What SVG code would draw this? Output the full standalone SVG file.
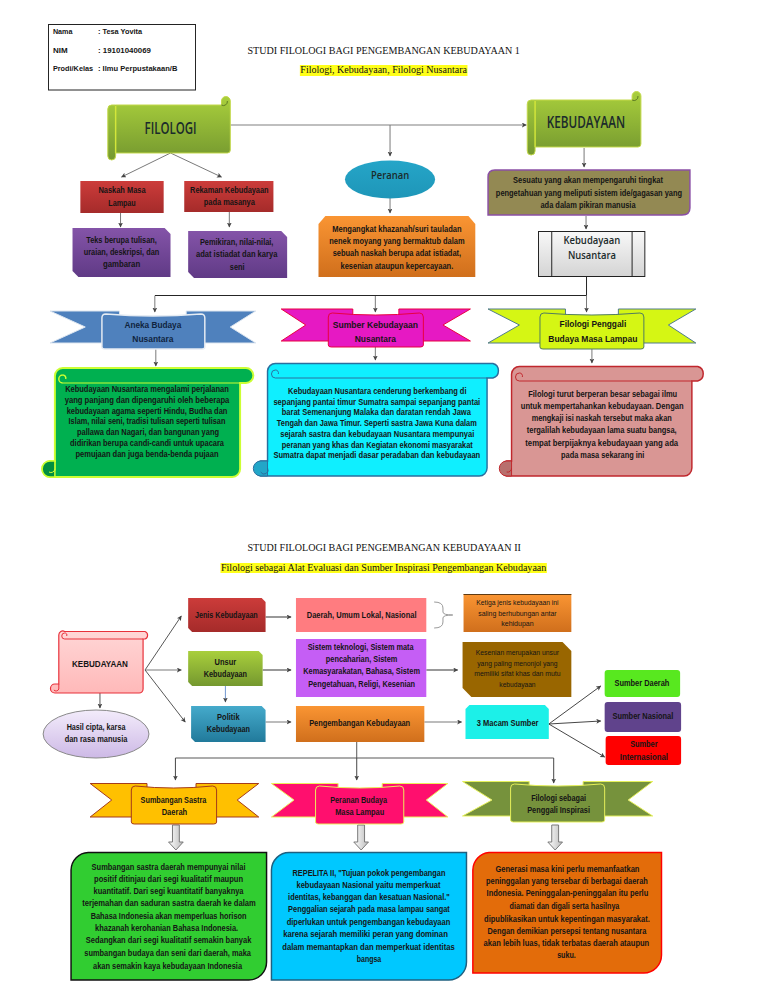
<svg xmlns="http://www.w3.org/2000/svg" width="768" height="994" viewBox="0 0 768 994">
<style>
text{font-family:"Liberation Sans",Arial,sans-serif;font-size:8.4px;font-weight:700;fill:#151515;text-anchor:middle}
.n{font-weight:400;font-size:7.4px}
.h{font-family:"Open Sans","Liberation Sans",sans-serif;font-weight:600;font-size:11px;fill:#1b2b2b}
.s{font-family:"Liberation Serif",serif;font-weight:400;font-size:10.5px;fill:#111}
.l{text-anchor:start;font-size:7.8px}
.c{fill:none;stroke:#777;stroke-width:1;marker-end:url(#a)}
.k{fill:none;stroke:#222;stroke-width:1}
.hl{fill:#ffff19}
.f{fill:none;stroke-width:1}
</style>
<defs>
<marker id="a" markerWidth="6" markerHeight="6" refX="4.5" refY="2.5" orient="auto" markerUnits="userSpaceOnUse"><path d="M0 0L5 2.5L0 5L1.2 2.5Z" fill="#444"/></marker>
<linearGradient id="g1" x1="0" y1="0" x2="0" y2="1"><stop offset="0" stop-color="#a9cf3c"/><stop offset="1" stop-color="#74982f"/></linearGradient>
<linearGradient id="r1" x1="0" y1="0" x2="0" y2="1"><stop offset="0" stop-color="#cc3c3a"/><stop offset="1" stop-color="#a52b2a"/></linearGradient>
<linearGradient id="p1" x1="0" y1="0" x2="0" y2="1"><stop offset="0" stop-color="#8454a8"/><stop offset="1" stop-color="#603a86"/></linearGradient>
<linearGradient id="o1" x1="0" y1="0" x2="0" y2="1"><stop offset="0" stop-color="#fa9533"/><stop offset="1" stop-color="#d06f1c"/></linearGradient>
<linearGradient id="t1" x1="0" y1="0" x2="0" y2="1"><stop offset="0" stop-color="#45aacb"/><stop offset="1" stop-color="#217a9b"/></linearGradient>
<linearGradient id="e1" x1="0" y1="0" x2="0" y2="1"><stop offset="0" stop-color="#25a5c8"/><stop offset="1" stop-color="#1e96b8"/></linearGradient>
<linearGradient id="w1" x1="0" y1="0" x2="0" y2="1"><stop offset="0" stop-color="#f8f8f8"/><stop offset="1" stop-color="#d4d4d4"/></linearGradient>
<linearGradient id="v1" x1="0" y1="0" x2="0" y2="1"><stop offset="0" stop-color="#f3ecfb"/><stop offset="1" stop-color="#cdb9e6"/></linearGradient>
<linearGradient id="s1" x1="0" y1="0" x2="0" y2="1"><stop offset="0" stop-color="#ffd6d6"/><stop offset="1" stop-color="#ffb9b9"/></linearGradient>
<linearGradient id="ar" x1="0" y1="0" x2="1" y2="0"><stop offset="0" stop-color="#fff"/><stop offset="1" stop-color="#bbb"/></linearGradient>
</defs>
<g id="page" transform="scale(0.98 1)">
<g id="connectors">
<path class="c" d="M235 125H537" style="stroke:#aaa;stroke-width:1.5"/>
<path class="c" d="M398 125V156"/>
<path class="c" d="M174 153L124 177"/>
<path class="c" d="M174 153L226 177"/>
<path class="c" d="M123 213V227"/>
<path class="c" d="M234 212V227"/>
<path class="c" d="M398 198V213"/>
<path class="c" d="M596 148V167"/>
<path class="c" d="M598 216V229"/>
<path class="k" d="M598.500 277V295.500H158"/>
<path class="c" d="M158 296V312"/>
<path class="c" d="M383 296V312"/>
<path class="c" d="M598.500 296V312"/>
<path class="c" d="M159 349V366"/>
<path class="c" d="M383 347V360"/>
<path class="c" d="M604 349V363"/>
<path class="c" d="M271 617H297" style="stroke-width:1.5"/>
<path class="c" d="M268 670H297" style="stroke-width:1.5"/>
<path class="c" d="M435 670H467" style="stroke-width:1.5"/>
<path class="c" d="M271 722H297"/>
<path class="c" d="M433 722H471"/>
<path class="c" d="M148 670L185 616" style="stroke:#555"/>
<path class="c" d="M148 670H185"/>
<path class="c" d="M148 670L189 722" style="stroke:#555"/>
<path class="c" d="M102 693V708" style="stroke:#555"/>
<path class="c" d="M230 686V702" style="stroke:#6f96cf"/>
<path class="c" d="M560 724L613 686" style="stroke:#444"/>
<path class="c" d="M560 724L613 721" style="stroke:#444"/>
<path class="c" d="M560 724L617 757" style="stroke:#444"/>
<path class="k" d="M443 602Q452 602 452 608V612Q452 615 462 615Q452 615 452 618V622Q452 628 443 628" style="stroke:#999"/>
<path class="k" d="M364 742V758M179 758H565" style="stroke:#555"/>
<path class="c" d="M179 758V780" style="stroke:#444"/>
<path class="c" d="M364 758V780" style="stroke:#444"/>
<path class="c" d="M565 758V783" style="stroke:#444"/>
<path d="M176 825H183V842H187L179.500 850L172 842H176Z" fill="url(#ar)" stroke="#777"/>
<path d="M365 825H372V842H376L368.500 850L361 842H365Z" fill="url(#ar)" stroke="#777"/>
<path d="M563 825H570V842H574L566.500 850L559 842H563Z" fill="url(#ar)" stroke="#777"/>
</g>

<g id="info">
<rect x="49.500" y="24.500" width="150" height="65.500" fill="#fff" stroke="#222"/>
<text class="l" x="54" y="34.500" textLength="20" lengthAdjust="spacingAndGlyphs">Nama</text><text class="l" x="100" y="34.500" textLength="45" lengthAdjust="spacingAndGlyphs">: Tesa Yovita</text>
<text class="l" x="54" y="53.500" textLength="15" lengthAdjust="spacingAndGlyphs">NIM</text><text class="l" x="100" y="53.500" textLength="54" lengthAdjust="spacingAndGlyphs">: 19101040069</text>
<text class="l" x="54" y="71.500" textLength="41" lengthAdjust="spacingAndGlyphs">Prodi/Kelas</text><text class="l" x="100" y="71.500" textLength="81" lengthAdjust="spacingAndGlyphs">: Ilmu Perpustakaan/B</text>
</g>
<g id="title1">
<text class="s" x="391.500" y="54" textLength="278" lengthAdjust="spacingAndGlyphs">STUDI FILOLOGI BAGI PENGEMBANGAN KEBUDAYAAN 1</text>
<rect class="hl" x="306" y="65" width="171" height="11"/>
<text class="s" x="391.500" y="73.500" textLength="170" lengthAdjust="spacingAndGlyphs">Filologi, Kebudayaan, Filologi Nusantara</text>
</g>

<g id="filologi">
<path d="M118 105H226V101A4.500 4.500 0 0 1 235 101V150Q235 153 232 153H118V156A4 4 0 0 1 110 156V109Q110 105 114 105Z" fill="url(#g1)" stroke="#c3d94a"/>
<path d="M118 106V153" stroke="#d3e63a" stroke-width="1.500"/>
<path d="M226 105A4 4 0 0 0 232 101" class="f" stroke="#5d7a22"/>
<text class="h" style="font-size:16px" x="174" y="134" textLength="53" lengthAdjust="spacingAndGlyphs">FILOLOGI</text>
</g>
<g id="kebudayaan1">
<path d="M546 100H645V96A4.500 4.500 0 0 1 654 96V144Q654 147 651 147H546V151A4 4 0 0 1 538 151V104Q538 100 542 100Z" fill="url(#g1)" stroke="#c3d94a"/>
<path d="M546 101V147" stroke="#d3e63a" stroke-width="1.500"/>
<path d="M645 100A4 4 0 0 0 651 96" class="f" stroke="#5d7a22"/>
<text class="h" style="font-size:16px" x="598" y="128" textLength="80" lengthAdjust="spacingAndGlyphs">KEBUDAYAAN</text>
</g>
<g id="naskah">
<rect x="82" y="181" width="85" height="32" fill="url(#r1)"/>
<text x="124.500" y="193" textLength="48" lengthAdjust="spacingAndGlyphs">Naskah Masa</text>
<text x="124.500" y="206" textLength="28" lengthAdjust="spacingAndGlyphs">Lampau</text>
</g>
<g id="rekaman">
<rect x="188" y="181" width="91" height="31" fill="url(#r1)"/>
<text x="234" y="193" textLength="80" lengthAdjust="spacingAndGlyphs">Rekaman Kebudayaan</text>
<text x="234" y="205" textLength="52" lengthAdjust="spacingAndGlyphs">pada masanya</text>
</g>
<g id="teks">
<path d="M74 228H168L174 234V277H80L74 271Z" fill="url(#p1)"/>
<text x="124" y="243" textLength="72" lengthAdjust="spacingAndGlyphs">Teks berupa tulisan,</text>
<text x="124" y="255" textLength="77" lengthAdjust="spacingAndGlyphs">uraian, deskripsi, dan</text>
<text x="124" y="267" textLength="38" lengthAdjust="spacingAndGlyphs">gambaran</text>
</g>
<g id="pemikiran">
<path d="M192 231H287L293 237V278H198L192 272Z" fill="url(#p1)"/>
<text x="241.500" y="245" textLength="75" lengthAdjust="spacingAndGlyphs">Pemikiran, nilai-nilai,</text>
<text x="241.500" y="257" textLength="83" lengthAdjust="spacingAndGlyphs">adat istiadat dan karya</text>
<text x="242" y="270" textLength="15" lengthAdjust="spacingAndGlyphs">seni</text>
</g>
<g id="peranan">
<ellipse cx="398" cy="179.500" rx="46" ry="19" fill="url(#e1)"/>
<text class="h" x="398" y="179.500" textLength="39" lengthAdjust="spacingAndGlyphs">Peranan</text>
</g>
<g id="mengangkat">
<path d="M332 216H478L485 224V277H325V224Z" fill="url(#o1)"/>
<text x="405" y="232" textLength="132" lengthAdjust="spacingAndGlyphs">Mengangkat khazanah/suri tauladan</text>
<text x="405" y="244" textLength="138" lengthAdjust="spacingAndGlyphs">nenek moyang yang bermaktub dalam</text>
<text x="405" y="256" textLength="131" lengthAdjust="spacingAndGlyphs">sebuah naskah berupa adat istiadat,</text>
<text x="405" y="269.500" textLength="115" lengthAdjust="spacingAndGlyphs">kesenian ataupun kepercayaan.</text>
</g>
<g id="sesuatu">
<path d="M505 170H704V208Q704 215 696 215H498V177Q498 170 505 170Z" fill="#938953" stroke="#8a4fa5" stroke-width="1.500"/>
<text x="600" y="183" textLength="153" lengthAdjust="spacingAndGlyphs">Sesuatu yang akan mempengaruhi tingkat</text>
<text x="601" y="196" textLength="190" lengthAdjust="spacingAndGlyphs">pengetahuan yang meliputi sistem ide/gagasan yang</text>
<text x="600" y="208" textLength="97" lengthAdjust="spacingAndGlyphs">ada dalam pikiran manusia</text>
</g>
<g id="kebudayaan-nusantara">
<rect x="549.500" y="231.500" width="108.500" height="45" fill="url(#w1)" stroke="#222"/>
<path d="M563 231.500V276.500M645 231.500V276.500" stroke="#222"/>
<text class="h" x="604" y="244.500" textLength="58" lengthAdjust="spacingAndGlyphs">Kebudayaan</text>
<text class="h" x="604" y="259.500" textLength="49" lengthAdjust="spacingAndGlyphs">Nusantara</text>
</g>

<g id="aneka">
<path d="M51 311H122V343H51L87 327ZM261 311H190V343H261L235 327Z" fill="#4f81bd" stroke="#dde6f0"/>
<path d="M104 318V347Q104 349 107 349H206Q209 349 209 347V318Q209 314 205 314Q156 318 108 314Q104 314 104 318Z" fill="#4f81bd" stroke="#e6ecf3" stroke-width="1.500"/>
<text x="156" y="328" textLength="58" lengthAdjust="spacingAndGlyphs" style="fill:#10243f">Aneka Budaya</text>
<text x="156" y="342" textLength="42" lengthAdjust="spacingAndGlyphs" style="fill:#10243f">Nusantara</text>
</g>
<g id="sumber-kebudayaan">
<path d="M287 309H360V341H287L312 325ZM480 309H407V341H480L452 325Z" fill="#e619c3" stroke="#e8003f"/>
<path d="M335 317V345Q335 347 338 347H429Q432 347 432 345V317Q432 313 428 313Q383 317 339 313Q335 313 335 317Z" fill="#e619c3" stroke="#e8003f"/>
<text x="383" y="328" textLength="87" lengthAdjust="spacingAndGlyphs">Sumber Kebudayaan</text>
<text x="383" y="342" textLength="42" lengthAdjust="spacingAndGlyphs">Nusantara</text>
</g>
<g id="penggali">
<path d="M498 309H577V343H498L530 325ZM710 309H631V343H710L682 325Z" fill="#d5f614" stroke="#4f7a8a"/>
<path d="M551 317V347Q551 349 554 349H654Q657 349 657 347V317Q657 313 653 313Q604 317 555 313Q551 313 551 317Z" fill="#d5f614" stroke="#4f7a60"/>
<text x="605" y="327" textLength="68" lengthAdjust="spacingAndGlyphs">Filologi Penggali</text>
<text x="605" y="342" textLength="91" lengthAdjust="spacingAndGlyphs">Budaya Masa Lampau</text>
</g>

<g id="scroll-green">
<path d="M64 368H251A7.500 7.500 0 0 1 251 383H245V469A8 8 0 0 1 237 477H51A8 8 0 0 1 51 461H56V376A8 8 0 0 1 64 368Z" fill="#00b050" stroke="#ccff33" stroke-width="2"/>
<path d="M64 383A4 4 0 0 1 64 375A3 3 0 0 1 67 379M56 461V469A4 4 0 0 1 51 473" fill="none" stroke="#ccff33" stroke-width="1.500"/>
<path d="M51 461A8 8 0 0 0 51 477H56V461Z" fill="#008f40" stroke="#ccff33" stroke-width="1.500"/>
<path d="M56 469A4 4 0 0 1 50 472" class="f" stroke="#ccff33" stroke-width="1.500"/>
<path d="M64 383H245" stroke="#ccff33"/>
<text x="150" y="392" textLength="167" lengthAdjust="spacingAndGlyphs">Kebudayaan Nusantara mengalami perjalanan</text>
<text x="150" y="403" textLength="168" lengthAdjust="spacingAndGlyphs">yang panjang dan dipengaruhi  oleh beberapa</text>
<text x="150" y="414" textLength="164" lengthAdjust="spacingAndGlyphs">kebudayaan agama seperti Hindu, Budha dan</text>
<text x="150" y="424" textLength="160" lengthAdjust="spacingAndGlyphs">Islam, nilai seni, tradisi tulisan seperti tulisan</text>
<text x="151" y="435.500" textLength="145" lengthAdjust="spacingAndGlyphs">pallawa dan Nagari, dan bangunan yang</text>
<text x="150" y="446" textLength="157" lengthAdjust="spacingAndGlyphs">didirikan berupa candi-candi untuk upacara</text>
<text x="150" y="457" textLength="146" lengthAdjust="spacingAndGlyphs">pemujaan dan juga benda-benda pujaan</text>
</g>
<g id="scroll-cyan">
<path d="M281 363.500H503A7.500 7.500 0 0 1 503 378H497V468A8 8 0 0 1 489 476H266A8 8 0 0 1 266 461H273V371A8 8 0 0 1 281 363.500Z" fill="#0fefff" stroke="#2a6f9e" stroke-width="1.500"/>
<path d="M281 378H497M281 378A4 4 0 0 1 281 370A3 3 0 0 1 284 374" fill="none" stroke="#2a6f9e"/>
<path d="M266 461A7.500 7.500 0 0 0 266 476H273V461Z" fill="#22a6c8" stroke="#2a6f9e"/>
<path d="M273 468A4 4 0 0 1 266 472" class="f" stroke="#2a6f9e"/>
<text x="385" y="394" textLength="182" lengthAdjust="spacingAndGlyphs">Kebudayaan Nusantara  cenderung berkembang di</text>
<text x="384.500" y="405" textLength="211" lengthAdjust="spacingAndGlyphs">sepanjang pantai timur Sumatra sampai sepanjang pantai</text>
<text x="384" y="415" textLength="193" lengthAdjust="spacingAndGlyphs">barat Semenanjung Malaka dan daratan rendah Jawa</text>
<text x="384.500" y="426" textLength="204" lengthAdjust="spacingAndGlyphs">Tengah dan Jawa Timur. Seperti sastra Jawa Kuna dalam</text>
<text x="385" y="437" textLength="198" lengthAdjust="spacingAndGlyphs">sejarah sastra dan kebudayaan Nusantara mempunyai</text>
<text x="385" y="448" textLength="195" lengthAdjust="spacingAndGlyphs">peranan yang khas dan Kegiatan ekonomi masyarakat</text>
<text x="384.500" y="458" textLength="211" lengthAdjust="spacingAndGlyphs">Sumatra dapat menjadi dasar peradaban dan kebudayaan</text>
</g>
<g id="scroll-pink">
<path d="M530 366.500H712A7.500 7.500 0 0 1 712 381H706V468A8 8 0 0 1 698 476H517A8 8 0 0 1 517 461H522V374A8 8 0 0 1 530 366.500Z" fill="#d99694" stroke="#c0272d" stroke-width="1.500"/>
<path d="M530 381H706M530 381A4 4 0 0 1 530 373A3 3 0 0 1 533 377" fill="none" stroke="#c0272d"/>
<path d="M517 461A7.500 7.500 0 0 0 517 476H522V461Z" fill="#b86f6d" stroke="#c0272d"/>
<path d="M522 468A4 4 0 0 1 517 472" class="f" stroke="#c0272d"/>
<text x="615" y="397" textLength="152" lengthAdjust="spacingAndGlyphs">Filologi turut berperan besar sebagai ilmu</text>
<text x="614.500" y="409" textLength="166" lengthAdjust="spacingAndGlyphs">untuk mempertahankan kebudayaan. Dengan</text>
<text x="614" y="421" textLength="143" lengthAdjust="spacingAndGlyphs">mengkaji isi naskah tersebut maka akan</text>
<text x="614" y="433" textLength="153" lengthAdjust="spacingAndGlyphs">tergalilah kebudayaan lama suatu bangsa,</text>
<text x="614" y="446" textLength="156" lengthAdjust="spacingAndGlyphs">tempat berpijaknya  kebudayaan yang ada</text>
<text x="615" y="458" textLength="85" lengthAdjust="spacingAndGlyphs">pada masa sekarang ini</text>
</g>

<g id="title2">
<text class="s" x="392" y="551" textLength="279" lengthAdjust="spacingAndGlyphs">STUDI FILOLOGI BAGI PENGEMBANGAN KEBUDAYAAN II</text>
<rect class="hl" x="225" y="563" width="333" height="10"/>
<text class="s" x="391.500" y="571" textLength="332" lengthAdjust="spacingAndGlyphs">Filologi sebagai Alat Evaluasi dan Sumber Inspirasi Pengembangan Kebudayaan</text>
</g>

<g id="kebudayaan2">
<path d="M66 631.500H148A4 4 0 0 1 148 639H146V689A4 4 0 0 1 142 693H56A4.500 4.500 0 0 1 56 684H60V635A4 4 0 0 1 66 631.500Z" fill="url(#s1)" stroke="#e8303a" stroke-width="1.200"/>
<path d="M66 639H146M66 639A3 3 0 0 1 66 633A2 2 0 0 1 68 636M60 684V689A3 3 0 0 1 55 690" fill="none" stroke="#e8303a"/>
<text x="102" y="667" textLength="57" lengthAdjust="spacingAndGlyphs">KEBUDAYAAN</text>
</g>
<g id="hasil">
<ellipse cx="98" cy="734" rx="54" ry="24" fill="url(#v1)" stroke="#888"/>
<text x="98" y="730" textLength="60" lengthAdjust="spacingAndGlyphs">Hasil cipta, karsa</text>
<text x="98" y="742" textLength="64" lengthAdjust="spacingAndGlyphs">dan rasa manusia</text>
</g>
<g id="jenis">
<path d="M192 598H267L271 602V632H196L192 628Z" fill="url(#r1)"/>
<text x="231" y="618" textLength="64" lengthAdjust="spacingAndGlyphs">Jenis Kebudayaan</text>
</g>
<g id="daerah-umum">
<rect x="302" y="598" width="133" height="34" fill="#ff7c80"/>
<text x="369" y="618" textLength="112" lengthAdjust="spacingAndGlyphs">Daerah, Umum Lokal, Nasional</text>
</g>
<g id="ketiga">
<path d="M473 594H583V632H473Z" fill="url(#o1)"/>
<path d="M473 594.500H583" stroke="#5d3a12"/>
<text class="n" x="528" y="605.500" textLength="84" lengthAdjust="spacingAndGlyphs">Ketiga jenis kebudayaan ini</text>
<text class="n" x="528" y="616.500" textLength="80" lengthAdjust="spacingAndGlyphs">saling berhubungan antar</text>
<text class="n" x="528" y="626.500" textLength="33" lengthAdjust="spacingAndGlyphs">kehidupan</text>
</g>
<g id="unsur">
<path d="M192 651H264L268 655V686H196L192 682Z" fill="url(#g1)"/>
<text x="230" y="665" textLength="22" lengthAdjust="spacingAndGlyphs">Unsur</text>
<text x="230" y="677" textLength="44" lengthAdjust="spacingAndGlyphs">Kebudayaan</text>
</g>
<g id="sistem">
<rect x="302" y="639" width="133" height="58" fill="#c55ef5"/>
<text x="368" y="650" textLength="108" lengthAdjust="spacingAndGlyphs">Sistem teknologi, Sistem mata</text>
<text x="369" y="662" textLength="73" lengthAdjust="spacingAndGlyphs">pencaharian, Sistem</text>
<text x="369" y="674" textLength="119" lengthAdjust="spacingAndGlyphs">Kemasyarakatan, Bahasa, Sistem</text>
<text x="369" y="687" textLength="109" lengthAdjust="spacingAndGlyphs">Pengetahuan, Religi, Kesenian</text>
</g>
<g id="kesenian">
<path d="M472 642H574L583 651V697H481L472 688Z" fill="#996600"/>
<text class="n" x="528" y="655.500" textLength="85" lengthAdjust="spacingAndGlyphs">Kesenian merupakan unsur</text>
<text class="n" x="528" y="666.500" textLength="82" lengthAdjust="spacingAndGlyphs">yang paling menonjol yang</text>
<text class="n" x="528" y="676.500" textLength="88" lengthAdjust="spacingAndGlyphs">memiliki sifat khas dan mutu</text>
<text class="n" x="528" y="687.500" textLength="37" lengthAdjust="spacingAndGlyphs">kebudayaan</text>
</g>
<g id="politik">
<path d="M195 706H267L271 710V742H199L195 738Z" fill="url(#t1)"/>
<text x="233" y="720" textLength="23" lengthAdjust="spacingAndGlyphs">Politik</text>
<text x="233" y="732" textLength="44" lengthAdjust="spacingAndGlyphs">Kebudayaan</text>
</g>
<g id="pengembangan">
<rect x="302" y="706" width="131" height="36" fill="url(#o1)"/>
<text x="367" y="726" textLength="103" lengthAdjust="spacingAndGlyphs">Pengembangan Kebudayaan</text>
</g>
<g id="macam">
<path d="M479 705H556L560 709V739H475V709Z" fill="#1cf0e8"/>
<text x="518" y="726" textLength="63" lengthAdjust="spacingAndGlyphs">3 Macam Sumber</text>
</g>
<g id="sumber-daerah">
<rect x="617" y="670" width="77" height="27" rx="3" fill="#58e81f"/>
<text x="655" y="686" textLength="56" lengthAdjust="spacingAndGlyphs">Sumber Daerah</text>
</g>
<g id="sumber-nasional">
<rect x="617" y="702" width="78" height="30" rx="3" fill="#60438c"/>
<text x="656" y="719" textLength="62" lengthAdjust="spacingAndGlyphs">Sumber Nasional</text>
</g>
<g id="sumber-internasional">
<rect x="618" y="736" width="77" height="29" rx="3" fill="#ff0000"/>
<text x="657" y="747" textLength="28" lengthAdjust="spacingAndGlyphs">Sumber</text>
<text x="657" y="760" textLength="49" lengthAdjust="spacingAndGlyphs">Internasional</text>
</g>

<g id="sumbangan">
<path d="M92 783.500H150V817H92L114 800ZM264 783.500H200V817H264L242 800Z" fill="#ffc000" stroke="#a33a1a"/>
<path d="M134 790V822Q134 824 137 824H218Q221 824 221 822V790Q221 786 217 786Q177 790 138 786Q134 786 134 790Z" fill="#ffc000" stroke="#a33a1a"/>
<text x="177" y="803.500" textLength="67" lengthAdjust="spacingAndGlyphs">Sumbangan Sastra</text>
<text x="178" y="815.500" textLength="26" lengthAdjust="spacingAndGlyphs">Daerah</text>
</g>
<g id="peranan-budaya">
<path d="M277 783.500H345V817H277L300 800ZM457 783.500H390V817H457L435 800Z" fill="#ff0f6e" stroke="#ecf05a"/>
<path d="M322 790V822Q322 824 325 824H409Q412 824 412 822V790Q412 786 408 786Q367 790 326 786Q322 786 322 790Z" fill="#ff0f6e" stroke="#ecf05a"/>
<text x="366" y="803.500" textLength="58" lengthAdjust="spacingAndGlyphs">Peranan Budaya</text>
<text x="367" y="815.500" textLength="50" lengthAdjust="spacingAndGlyphs">Masa Lampau</text>
</g>
<g id="filologi-sebagai">
<path d="M472 781.500H540V816H472L502 800ZM666 781.500H595V816H666L641 800Z" fill="#76923c" stroke="#e6f05a"/>
<path d="M521 788V820Q521 822 524 822H614Q617 822 617 820V788Q617 784 613 784Q569 788 525 784Q521 784 521 788Z" fill="#76923c" stroke="#e6f05a"/>
<text x="570" y="801.500" textLength="56" lengthAdjust="spacingAndGlyphs">Filologi sebagai</text>
<text x="570" y="813" textLength="64" lengthAdjust="spacingAndGlyphs">Penggali Inspirasi</text>
</g>

<g id="box-green">
<path d="M90 852.500H272V962A18 18 0 0 1 254 980H72.500V870A18 18 0 0 1 90 852.500Z" fill="#31cd31" stroke="#111" stroke-width="1.500"/>
<text x="172" y="870" textLength="157" lengthAdjust="spacingAndGlyphs">Sumbangan sastra daerah mempunyai nilai</text>
<text x="172" y="882" textLength="152" lengthAdjust="spacingAndGlyphs">positif ditinjau dari segi kualitatif maupun</text>
<text x="172" y="894" textLength="153" lengthAdjust="spacingAndGlyphs">kuantitatif. Dari segi kuantitatif banyaknya</text>
<text x="172.500" y="906" textLength="177" lengthAdjust="spacingAndGlyphs">terjemahan dan saduran sastra daerah ke dalam</text>
<text x="172" y="919" textLength="159" lengthAdjust="spacingAndGlyphs">Bahasa Indonesia akan memperluas horison</text>
<text x="170" y="931" textLength="146" lengthAdjust="spacingAndGlyphs">khazanah kerohanian Bahasa Indonesia.</text>
<text x="172" y="943" textLength="169" lengthAdjust="spacingAndGlyphs">Sedangkan dari segi kualitatif semakin banyak</text>
<text x="171" y="956" textLength="170" lengthAdjust="spacingAndGlyphs">sumbangan budaya dan seni dari daerah, maka</text>
<text x="171" y="969" textLength="152" lengthAdjust="spacingAndGlyphs">akan semakin kaya kebudayaan Indonesia</text>
</g>
<g id="box-blue">
<path d="M295 852.500H476V962A18 18 0 0 1 458 980H277V870A18 18 0 0 1 295 852.500Z" fill="#00c8ff" stroke="#1f6080" stroke-width="1.500"/>
<text x="376.500" y="876" textLength="156" lengthAdjust="spacingAndGlyphs">REPELITA II, "Tujuan pokok pengembangan</text>
<text x="376" y="888" textLength="147" lengthAdjust="spacingAndGlyphs">kebudayaan Nasional yaitu memperkuat</text>
<text x="376.500" y="900" textLength="165" lengthAdjust="spacingAndGlyphs">identitas, kebanggan dan kesatuan Nasional."</text>
<text x="376.500" y="912" textLength="165" lengthAdjust="spacingAndGlyphs">Penggalian sejarah pada masa lampau sangat</text>
<text x="376" y="925" textLength="167" lengthAdjust="spacingAndGlyphs">diperlukan untuk pengembangan kebudayaan</text>
<text x="373" y="937" textLength="168" lengthAdjust="spacingAndGlyphs">karena sejarah memiliki peran yang dominan</text>
<text x="376" y="950" textLength="176" lengthAdjust="spacingAndGlyphs">dalam memantapkan dan memperkuat identitas</text>
<text x="376.500" y="962" textLength="25" lengthAdjust="spacingAndGlyphs">bangsa</text>
</g>
<g id="box-orange">
<path d="M499 852.500H675V955A18 18 0 0 1 657 973H482.500V870A18 18 0 0 1 499 852.500Z" fill="#e36c0a" stroke="#ff0000" stroke-width="1.500"/>
<text x="579" y="872" textLength="147" lengthAdjust="spacingAndGlyphs">Generasi masa kini perlu memanfaatkan</text>
<text x="578.500" y="884" textLength="165" lengthAdjust="spacingAndGlyphs">peninggalan yang tersebar di berbagai daerah</text>
<text x="579" y="896" textLength="165" lengthAdjust="spacingAndGlyphs">Indonesia. Peninggalan-peninggalan itu perlu</text>
<text x="576" y="909" textLength="112" lengthAdjust="spacingAndGlyphs">diamati dan digali serta hasilnya</text>
<text x="578.500" y="922" textLength="169" lengthAdjust="spacingAndGlyphs">dipublikasikan untuk kepentingan masyarakat.</text>
<text x="578.500" y="934" textLength="162" lengthAdjust="spacingAndGlyphs">Dengan demikian persepsi tentang nusantara</text>
<text x="578" y="946" textLength="169" lengthAdjust="spacingAndGlyphs">akan lebih luas, tidak terbatas daerah ataupun</text>
<text x="578" y="958" textLength="19" lengthAdjust="spacingAndGlyphs">suku.</text>
</g>
</g>
</svg>
